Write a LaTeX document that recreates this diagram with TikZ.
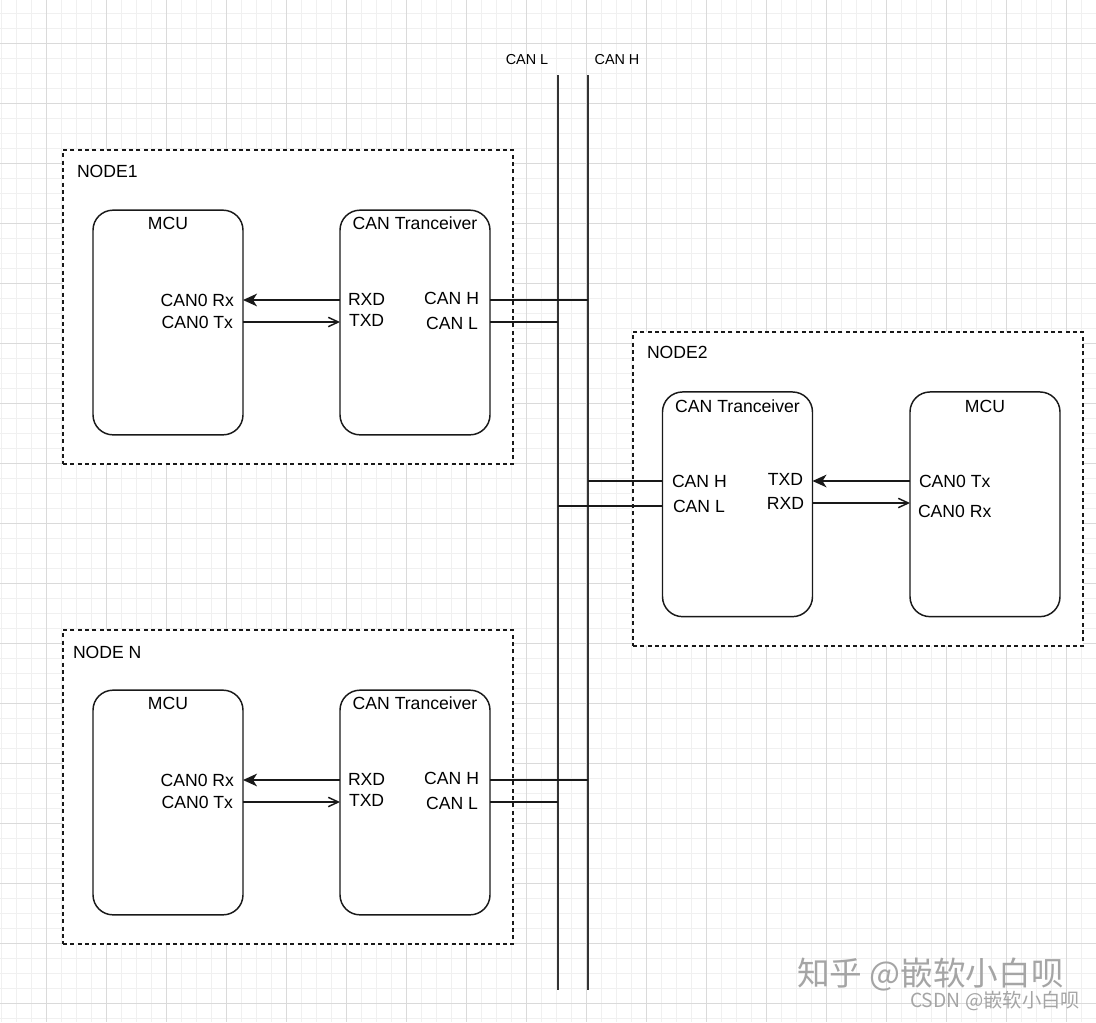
\documentclass[tikz,border=0pt]{standalone}
\usepackage{fontspec}
\setmainfont{Liberation Sans}
\newfontfamily\cjk{Noto Sans CJK SC}
\usetikzlibrary{arrows.meta,positioning}
\definecolor{gridminor}{RGB}{240,240,240}
\definecolor{gridmajor}{RGB}{218,218,218}
\definecolor{wirecol}{RGB}{25,25,25}
\definecolor{buscol}{RGB}{51,51,51}
\definecolor{wmgray}{RGB}{165,165,165}

\begin{document}
\begin{tikzpicture}[x=0.75pt,y=-0.75pt,>=Stealth, every node/.style={font=\fontsize{13.2}{15}\selectfont, inner sep=0pt, outer sep=0pt}]
\tikzstyle{unit}=[draw=wirecol, fill=white, line width=1.1pt, rounded corners=15pt, minimum width=112.5pt, minimum height=168.5pt]
\tikzstyle{group}=[draw=wirecol, fill=white, line width=1.1pt, dash pattern=on 3pt off 2.5pt, minimum width=337.5pt, minimum height=235.5pt]
\tikzstyle{title}=[anchor=center]
\tikzstyle{port}=[text=black]
\tikzstyle{grouptag}=[anchor=west]
\tikzstyle{bustag}=[font=\fontsize{10.8}{12}\selectfont]
\tikzstyle{bus}=[draw=buscol, line width=1.6pt]
\tikzstyle{wire}=[draw=wirecol, line width=1.1pt]
\tikzstyle{rxarrow}=[draw=wirecol, line width=1.1pt, -{Stealth[length=10.5pt,width=9.5pt,inset=3pt]}]
\tikzstyle{txarrow}=[draw=wirecol, line width=1.1pt, -{Straight Barb[length=7.5pt,width=7pt]}]
\tikzstyle{wm}=[text=wmgray]
% background and grid
\fill[white] (0,0) rectangle (1096,1022);
\useasboundingbox (0,0) rectangle (1096,1022);
\foreach \gx in {1,16,...,1096} \draw[gridminor, line width=0.6pt] (\gx,0) -- (\gx,1022);
\foreach \gy in {13,28,...,1022} \draw[gridminor, line width=0.6pt] (0,\gy) -- (1096,\gy);
\foreach \gx in {46,106,...,1096} \draw[gridmajor, line width=0.75pt] (\gx,0) -- (\gx,1022);
\foreach \gy in {43,103,...,1022} \draw[gridmajor, line width=0.75pt] (0,\gy) -- (1096,\gy);

% CAN bus
\node[bustag] (lname) at (527,60) {CAN L};
\node[bustag] (hname) at (617,60) {CAN H};
\coordinate (lTop) at (558,75);
\coordinate (lBot) at (558,990);
\coordinate (hTop) at (588,75);
\coordinate (hBot) at (588,990);
\draw[bus] (lTop) -- (lBot);
\draw[bus] (hTop) -- (hBot);

% NODE1
\node[group] (node1) at (288,307) {};
\node[grouptag] (tag1) at (77,171) {NODE1};
\node[unit] (mcu1) at (168,322.5) {};
\node[unit] (tr1) at (415,322.5) {};
\node[title] (mcu1t) at ([yshift=-9.75pt]mcu1.north) {MCU};
\node[title] (tr1t) at ([yshift=-9.75pt]tr1.north) {CAN Tranceiver};
\node[port, anchor=east] (rx1) at (234,300) {CAN0 Rx};
\node[port, anchor=east] (tx1) at (233,322) {CAN0 Tx};
\node[port, anchor=west] (rxd1) at (348,299) {RXD};
\node[port, anchor=west] (txd1) at (349,320) {TXD};
\node[port, anchor=east] (ch1) at (479,298) {CAN H};
\node[port, anchor=east] (cl1) at (478,323) {CAN L};
\draw[rxarrow] (tr1.west |- rx1) -- (mcu1.east |- rx1);
\draw[txarrow] (mcu1.east |- tx1) -- (tr1.west |- tx1);
\draw[wire] (tr1.east |- rx1) -- (hTop |- rx1);
\draw[wire] (tr1.east |- tx1) -- (lTop |- tx1);

% NODE2
\node[group] (node2) at (858,489) {};
\node[grouptag] (tag2) at (647,352) {NODE2};
\node[unit] (tr2) at (737.5,504.3) {};
\node[unit] (mcu2) at (985,504.3) {};
\node[title] (tr2t) at ([yshift=-10.5pt]tr2.north) {CAN Tranceiver};
\node[title] (mcu2t) at ([yshift=-10.5pt]mcu2.north) {MCU};
\node[port, anchor=west] (ch2) at (672,481) {CAN H};
\node[port, anchor=west] (cl2) at (673,506) {CAN L};
\node[port, anchor=east] (txd2) at (803,479) {TXD};
\node[port, anchor=east] (rxd2) at (804,503) {RXD};
\node[port, anchor=west] (tx2) at (919,481) {CAN0 Tx};
\node[port, anchor=west] (rx2) at (918,511) {CAN0 Rx};
\draw[rxarrow] (mcu2.west |- tx2) -- (tr2.east |- tx2);
\draw[txarrow] (tr2.east |- rxd2) -- (mcu2.west |- rxd2);
\draw[wire] (hTop |- ch2) -- (tr2.west |- ch2);
\draw[wire] (lTop |- cl2) -- (tr2.west |- cl2);

% NODE N
\node[group] (noden) at (288,787) {};
\node[grouptag] (tagn) at (73,652) {NODE N};
\node[unit] (mcun) at (168,802.5) {};
\node[unit] (trn) at (415,802.5) {};
\node[title] (mcunt) at ([yshift=-9.75pt]mcun.north) {MCU};
\node[title] (trnt) at ([yshift=-9.75pt]trn.north) {CAN Tranceiver};
\node[port, anchor=east] (rxn) at (234,780) {CAN0 Rx};
\node[port, anchor=east] (txn) at (233,802) {CAN0 Tx};
\node[port, anchor=west] (rxdn) at (348,779) {RXD};
\node[port, anchor=west] (txdn) at (349,800) {TXD};
\node[port, anchor=east] (chn) at (479,778) {CAN H};
\node[port, anchor=east] (cln) at (478,803) {CAN L};
\draw[rxarrow] (trn.west |- rxn) -- (mcun.east |- rxn);
\draw[txarrow] (mcun.east |- txn) -- (trn.west |- txn);
\draw[wire] (trn.east |- rxn) -- (hTop |- rxn);
\draw[wire] (trn.east |- txn) -- (lTop |- txn);

% watermark
\node[wm, anchor=west, font=\cjk\fontsize{24.5}{27}\selectfont] (zhihu) at (797,975) {知乎 @嵌软小白呗};
\node[wm, anchor=east, font=\cjk\fontsize{14.5}{16}\selectfont] (csdn) at (1080,1001) {CSDN @嵌软小白呗};
\end{tikzpicture}
\end{document}
